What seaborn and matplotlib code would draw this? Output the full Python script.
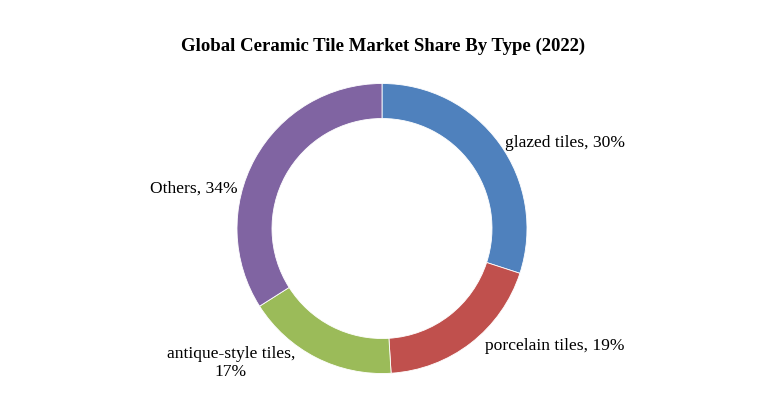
import seaborn as sns
import matplotlib.pyplot as plt

# data
types = ["glazed tiles", "porcelain tiles", "antique-style tiles", "Others"]
shares = [30, 19, 17, 34]
colors = ["#4F81BD", "#C0504D", "#9BBB59", "#8064A2"]
title = "Global Ceramic Tile Market Share By Type (2022)"

sns.set_theme(style="white")
plt.rcParams['font.family'] = ['Liberation Serif', 'DejaVu Serif']

W, H = 782, 407
fig = plt.figure(figsize=(W / 100, H / 100), dpi=100)
ax = fig.add_axes([0, 0, 1, 1])

cx, cy, r = 382, 228.5, 145
# y axis is flipped below, so startangle -90 points up and
# counterclock in data space reads clockwise on screen
wedges, _ = ax.pie(shares, colors=sns.color_palette(colors), startangle=-90,
                   counterclock=True, center=(cx, cy), radius=r,
                   wedgeprops=dict(width=35, edgecolor='white', linewidth=0.6))
ax.set_xlim(0, W)
ax.set_ylim(H, 0)
ax.set_aspect('equal')
ax.axis('off')

# label positions (pixels)
label_pos = [(505, 143, 'left'), (485, 346, 'left'), (231, 363, 'center'), (150, 189, 'left')]
for name, val, (x, y, ha) in zip(types, shares, label_pos):
    txt = f"{name}, {val}%"
    if name == "antique-style tiles":
        txt = f"{name},\n{val}%"
    ax.text(x, y, txt, ha=ha, va='center', fontsize=12.6, color='black', linespacing=1.2)

ax.text(383, 46, title, ha='center', va='center', fontsize=13.5,
        fontweight='bold', color='black')

fig.savefig("out.png", dpi=100)
